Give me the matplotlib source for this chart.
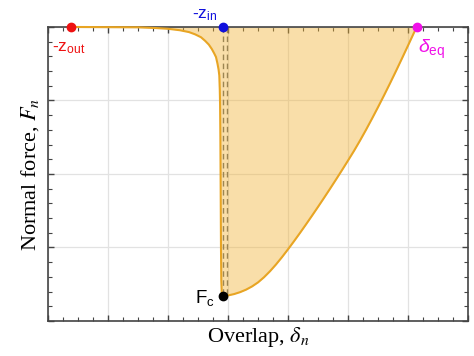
import numpy as np
import matplotlib.pyplot as plt
from matplotlib.ticker import MultipleLocator

# attractive (approach) branch: from -z_out down to the critical force F_c
attract_x = [0.383, 1.50, 1.80, 2.00, 2.20, 2.35, 2.45, 2.55, 2.62, 2.68,
             2.73, 2.77, 2.80, 2.825, 2.843, 2.855, 2.863, 2.868, 2.873,
             2.878, 2.883, 2.888, 2.895, 2.905, 2.922]
attract_y = [0.0, -0.005, -0.015, -0.025, -0.045, -0.07, -0.10, -0.14,
             -0.19, -0.24, -0.30, -0.36, -0.41, -0.50, -0.58, -0.66, -0.85,
             -1.05, -1.5, -2.2, -3.0, -3.45, -3.60, -3.645, -3.66]

# repulsive (loading) branch: from F_c up to delta_eq
repul_x = [2.922, 3.0, 3.1, 3.2, 3.3, 3.4, 3.5, 3.6, 3.7, 3.8, 3.9, 4.0,
           4.1, 4.2, 4.3, 4.4, 4.5, 4.6, 4.7, 4.8, 4.9, 5.0, 5.1, 5.2, 5.3,
           5.4, 5.5, 5.6, 5.7, 5.8, 5.9, 6.0, 6.1, 6.15]
repul_y = [-3.66, -3.652, -3.634, -3.608, -3.574, -3.530, -3.475, -3.405,
           -3.323, -3.231, -3.131, -3.025, -2.915, -2.802, -2.686, -2.568,
           -2.448, -2.326, -2.202, -2.076, -1.948, -1.818, -1.686, -1.546,
           -1.400, -1.248, -1.092, -0.932, -0.768, -0.600, -0.428, -0.254,
           -0.078, 0.0]

# dashed guides at -z_in
dash_x = [2.912, 2.978]
F_c = -3.66

# labelled points
z_out = 0.383
z_in = 2.912
delta_eq = 6.15

line_col = '#E8A524'

plt.rcParams['mathtext.fontset'] = 'custom'
plt.rcParams['mathtext.rm'] = 'Liberation Sans'
plt.rcParams['mathtext.it'] = 'Liberation Sans:italic'

fig = plt.figure(figsize=(4.74, 3.56), dpi=100)
ax = fig.add_axes([0.1013, 0.0983, 0.886, 0.826])

# shaded region between the force curve and zero
curve_x = attract_x + repul_x[1:]
curve_y = attract_y + repul_y[1:]
ax.fill_between(curve_x, curve_y, 0, color='#F2B232', alpha=0.42, lw=0, zorder=1)

for xd in dash_x:
    ax.plot([xd, xd], [0, F_c], ls='--', color='#9C8552', lw=1.0,
            dashes=(4, 2.5), zorder=2)

ax.plot(curve_x, curve_y, color=line_col, lw=1.5, zorder=3, clip_on=False)

# markers
ax.plot(z_out, 0, 'o', color='#EE1111', ms=6, clip_on=False, zorder=5)
ax.plot(z_in, 0, 'o', color='#1010DD', ms=6, clip_on=False, zorder=5)
ax.plot(delta_eq, 0, 'o', color='#F010E8', ms=6, clip_on=False, zorder=5)
ax.plot(attract_x[-1], F_c, 'o', color='black', ms=6, clip_on=False, zorder=5)

ax.text(0.07, -0.33, r'-z$_{\mathrm{out}}$', color='#EE1111', fontsize=12.5,
        family='Liberation Sans', zorder=6)
ax.text(2.40, 0.12, r'-z$_{\mathrm{in}}$', color='#1010DD', fontsize=12.5,
        family='Liberation Sans', zorder=6)
ax.text(6.17, -0.36, r'$\delta_{\mathrm{eq}}$', color='#F010E8', fontsize=14,
        family='Liberation Sans', zorder=6)
ax.text(2.45, -3.76, r'F$_{\mathrm{c}}$', color='black', fontsize=13.5,
        family='Liberation Sans', zorder=6)

ax.set_xlim(0, 7)
ax.set_ylim(-4, 0)
ax.xaxis.set_major_locator(MultipleLocator(1))
ax.xaxis.set_minor_locator(MultipleLocator(0.25))
ax.yaxis.set_major_locator(MultipleLocator(1))
ax.yaxis.set_minor_locator(MultipleLocator(0.2))
ax.tick_params(which='both', direction='in', top=True, right=True,
               labelbottom=False, labelleft=False, color='#444444')
ax.tick_params(which='major', length=4, width=1)
ax.tick_params(which='minor', length=3, width=0.8)
ax.grid(True, which='major', color='#E2E2E2', lw=0.9, zorder=0)
ax.set_axisbelow(True)
for sp in ax.spines.values():
    sp.set_color('#444444')
    sp.set_linewidth(1.2)

ax.set_xlabel(r'Overlap, $\delta_n$', family='Liberation Serif', fontsize=16,
              math_fontfamily='stix', labelpad=3)
ax.set_ylabel(r'Normal force, $F_n$', family='Liberation Serif', fontsize=16,
              math_fontfamily='stix', labelpad=5)

fig.savefig('out.png', dpi=100)
